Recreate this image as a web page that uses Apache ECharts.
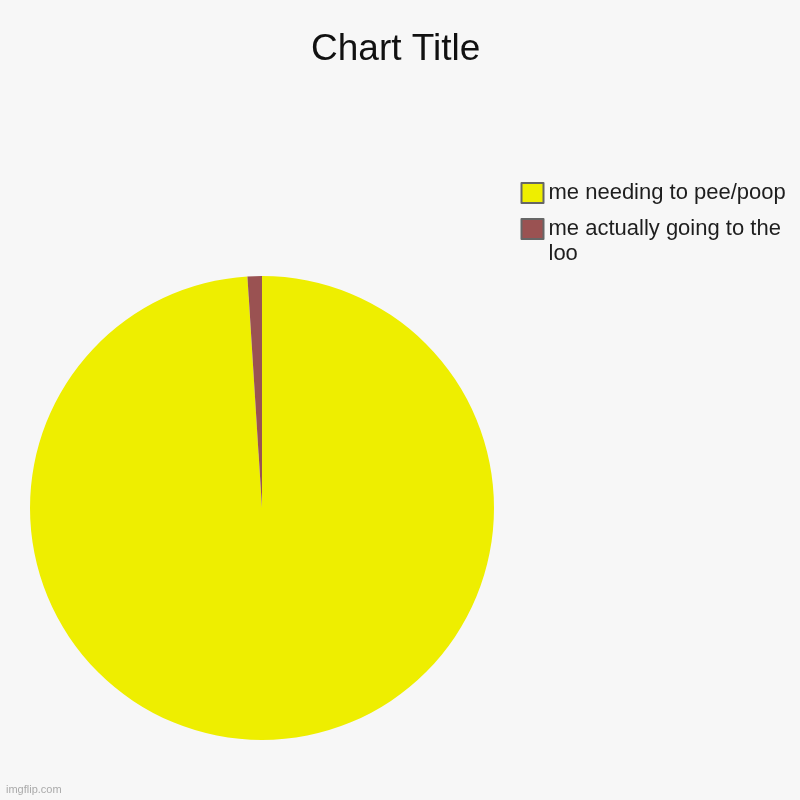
<!DOCTYPE html>
<html>
<head>
<meta charset="utf-8">
<style>html,body{margin:0;padding:0;background:#f7f7f7;}#c{width:800px;height:800px;}</style>
<script src="https://cdn.jsdelivr.net/npm/echarts@6/dist/echarts.min.js"></script>
</head>
<body>
<div id="c"></div>
<script>
const titleText = 'Chart Title';
const categories = ['me needing to pee/poop', 'me actually going to the loo'];
const values = [99, 1];
const colors = ['#eeee00', '#9a5252'];

const chart = echarts.init(document.getElementById('c'), null, {renderer: 'canvas'});
const font = '"Liberation Sans", Arial, sans-serif';
const legendTextStyle = {fontFamily: font, fontSize: 22, color: '#1e1e1e', lineHeight: 25, width: 245, overflow: 'break'};
const legendBase = {
  orient: 'vertical',
  left: 515.5,
  itemWidth: 22,
  itemHeight: 20,
  icon: 'rect',
  itemStyle: {borderColor: '#666666', borderWidth: 2},
  textStyle: legendTextStyle,
  selectedMode: false
};
chart.setOption({
  backgroundColor: '#f7f7f7',
  title: {
    text: titleText,
    left: 306,
    top: 26,
    textStyle: {fontFamily: font, fontSize: 37, fontWeight: 'normal', color: '#111111'}
  },
  legend: [
    Object.assign({}, legendBase, {top: 175.5, data: [categories[0]]}),
    Object.assign({}, legendBase, {top: 186.5, data: [categories[1]], formatter: name => '\n' + name})
  ],
  color: colors,
  graphic: [{
    type: 'text', left: 6, top: 784,
    style: {text: 'imgflip.com', fill: '#aaaaaa', fontFamily: font, fontSize: 11}
  }],
  series: [{
    type: 'pie',
    center: [262, 508],
    radius: 232,
    startAngle: 90,
    clockwise: true,
    label: {show: false},
    labelLine: {show: false},
    silent: true,
    animation: false,
    itemStyle: {borderWidth: 0},
    data: categories.map((n, i) => ({name: n, value: values[i]}))
  }]
});
</script>
</body>
</html>
